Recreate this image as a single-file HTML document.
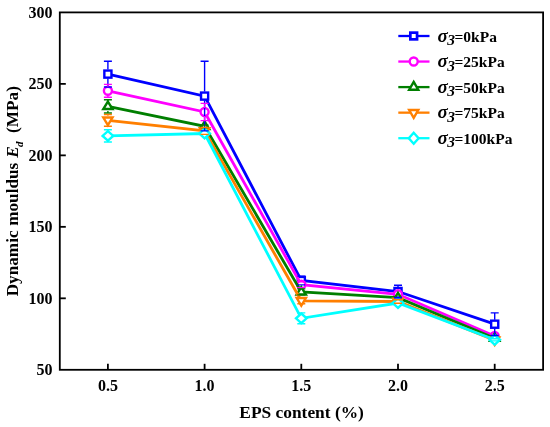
<!DOCTYPE html>
<html><head><meta charset="utf-8"><style>
html,body{margin:0;padding:0;background:#fff;}
svg{display:block;}
.t{font-family:"Liberation Serif",serif;font-weight:bold;font-size:16px;fill:#000;}
.lg{font-family:"Liberation Serif",serif;font-weight:bold;font-size:15.5px;fill:#000;}
.sg{font-size:19px;}
.s3{font-size:15.5px;}
</style></head><body>
<svg width="550" height="427" viewBox="0 0 550 427">
<rect width="550" height="427" fill="#fff"/>
<polyline points="107.90,74.10 204.60,96.10 301.30,280.50 398.00,291.50 494.70,324.20" fill="none" stroke="#0000ff" stroke-width="2.8" stroke-linejoin="miter"/>
<rect x="104.35" y="70.55" width="7.1" height="7.1" fill="#fff" stroke="#0000ff" stroke-width="2.4"/>
<rect x="201.05" y="92.55" width="7.1" height="7.1" fill="#fff" stroke="#0000ff" stroke-width="2.4"/>
<rect x="297.75" y="276.95" width="7.1" height="7.1" fill="#fff" stroke="#0000ff" stroke-width="2.4"/>
<rect x="394.45" y="287.95" width="7.1" height="7.1" fill="#fff" stroke="#0000ff" stroke-width="2.4"/>
<rect x="491.15" y="320.65" width="7.1" height="7.1" fill="#fff" stroke="#0000ff" stroke-width="2.4"/>
<polyline points="107.90,90.80 204.60,112.00 301.30,284.70 398.00,294.30 494.70,336.00" fill="none" stroke="#ff00ff" stroke-width="2.8" stroke-linejoin="miter"/>
<circle cx="107.90" cy="90.80" r="4.0" fill="#fff" stroke="#ff00ff" stroke-width="2.4"/>
<circle cx="204.60" cy="112.00" r="4.0" fill="#fff" stroke="#ff00ff" stroke-width="2.4"/>
<circle cx="301.30" cy="284.70" r="4.0" fill="#fff" stroke="#ff00ff" stroke-width="2.4"/>
<circle cx="398.00" cy="294.30" r="4.0" fill="#fff" stroke="#ff00ff" stroke-width="2.4"/>
<circle cx="494.70" cy="336.00" r="4.0" fill="#fff" stroke="#ff00ff" stroke-width="2.4"/>
<polyline points="107.90,106.40 204.60,126.30 301.30,291.90 398.00,297.70 494.70,338.20" fill="none" stroke="#007f00" stroke-width="2.8" stroke-linejoin="miter"/>
<path d="M107.90,101.60 L112.50,109.05 L103.30,109.05Z" fill="#fff" stroke="#007f00" stroke-width="2.4" stroke-linejoin="miter"/>
<path d="M204.60,121.50 L209.20,128.95 L200.00,128.95Z" fill="#fff" stroke="#007f00" stroke-width="2.4" stroke-linejoin="miter"/>
<path d="M301.30,287.10 L305.90,294.55 L296.70,294.55Z" fill="#fff" stroke="#007f00" stroke-width="2.4" stroke-linejoin="miter"/>
<path d="M398.00,292.90 L402.60,300.35 L393.40,300.35Z" fill="#fff" stroke="#007f00" stroke-width="2.4" stroke-linejoin="miter"/>
<path d="M494.70,333.40 L499.30,340.85 L490.10,340.85Z" fill="#fff" stroke="#007f00" stroke-width="2.4" stroke-linejoin="miter"/>
<polyline points="107.90,120.35 204.60,130.90 301.30,300.80 398.00,301.50 494.70,340.20" fill="none" stroke="#ff7f00" stroke-width="2.8" stroke-linejoin="miter"/>
<path d="M107.90,125.15 L112.50,117.55 L103.30,117.55Z" fill="#fff" stroke="#ff7f00" stroke-width="2.4" stroke-linejoin="miter"/>
<path d="M204.60,135.70 L209.20,128.10 L200.00,128.10Z" fill="#fff" stroke="#ff7f00" stroke-width="2.4" stroke-linejoin="miter"/>
<path d="M301.30,305.60 L305.90,298.00 L296.70,298.00Z" fill="#fff" stroke="#ff7f00" stroke-width="2.4" stroke-linejoin="miter"/>
<path d="M398.00,306.30 L402.60,298.70 L393.40,298.70Z" fill="#fff" stroke="#ff7f00" stroke-width="2.4" stroke-linejoin="miter"/>
<path d="M494.70,345.00 L499.30,337.40 L490.10,337.40Z" fill="#fff" stroke="#ff7f00" stroke-width="2.4" stroke-linejoin="miter"/>
<polyline points="107.90,135.90 204.60,133.50 301.30,318.30 398.00,303.00 494.70,339.80" fill="none" stroke="#00ffff" stroke-width="2.8" stroke-linejoin="miter"/>
<path d="M107.90,131.10 L113.20,135.90 L107.90,140.70 L102.60,135.90Z" fill="#fff" stroke="#00ffff" stroke-width="2.4" stroke-linejoin="miter"/>
<path d="M204.60,128.70 L209.90,133.50 L204.60,138.30 L199.30,133.50Z" fill="#fff" stroke="#00ffff" stroke-width="2.4" stroke-linejoin="miter"/>
<path d="M301.30,313.50 L306.60,318.30 L301.30,323.10 L296.00,318.30Z" fill="#fff" stroke="#00ffff" stroke-width="2.4" stroke-linejoin="miter"/>
<path d="M398.00,298.20 L403.30,303.00 L398.00,307.80 L392.70,303.00Z" fill="#fff" stroke="#00ffff" stroke-width="2.4" stroke-linejoin="miter"/>
<path d="M494.70,335.00 L500.00,339.80 L494.70,344.60 L489.40,339.80Z" fill="#fff" stroke="#00ffff" stroke-width="2.4" stroke-linejoin="miter"/>
<path d="M107.90,61.20V69.60M107.90,78.60V87.00M103.90,61.20H111.90M103.90,87.00H111.90" stroke="#0000ff" stroke-width="1.4" fill="none"/>
<path d="M204.60,61.30V91.60M204.60,100.60V130.90M200.60,61.30H208.60M200.60,130.90H208.60" stroke="#0000ff" stroke-width="1.4" fill="none"/>
<path d="M297.30,276.10H305.30M297.30,284.90H305.30" stroke="#0000ff" stroke-width="1.4" fill="none"/>
<path d="M398.00,285.20V287.00M398.00,296.00V297.80M394.00,285.20H402.00M394.00,297.80H402.00" stroke="#0000ff" stroke-width="1.4" fill="none"/>
<path d="M494.70,312.90V319.70M494.70,328.70V335.50M490.70,312.90H498.70M490.70,335.50H498.70" stroke="#0000ff" stroke-width="1.4" fill="none"/>
<path d="M107.90,84.40V86.80M107.90,94.80V97.20M103.90,84.40H111.90M103.90,97.20H111.90" stroke="#ff00ff" stroke-width="1.4" fill="none"/>
<path d="M204.60,103.40V108.00M204.60,116.00V120.60M200.60,103.40H208.60M200.60,120.60H208.60" stroke="#ff00ff" stroke-width="1.4" fill="none"/>
<path d="M297.30,281.70H305.30M297.30,287.70H305.30" stroke="#ff00ff" stroke-width="1.4" fill="none"/>


<path d="M107.90,99.80V101.80M107.90,111.00V113.00M103.90,99.80H111.90M103.90,113.00H111.90" stroke="#007f00" stroke-width="1.4" fill="none"/>
<path d="M200.60,125.10H208.60M200.60,127.50H208.60" stroke="#007f00" stroke-width="1.4" fill="none"/>
<path d="M297.30,288.90H305.30M297.30,294.90H305.30" stroke="#007f00" stroke-width="1.4" fill="none"/>


<path d="M107.90,114.50V115.75M107.90,124.95V126.20M103.90,114.50H111.90M103.90,126.20H111.90" stroke="#ff7f00" stroke-width="1.4" fill="none"/>
<path d="M200.60,127.40H208.60M200.60,134.40H208.60" stroke="#ff7f00" stroke-width="1.4" fill="none"/>
<path d="M297.30,297.80H305.30M297.30,303.80H305.30" stroke="#ff7f00" stroke-width="1.4" fill="none"/>
<path d="M394.00,299.70H402.00M394.00,303.30H402.00" stroke="#ff7f00" stroke-width="1.4" fill="none"/>

<path d="M107.90,129.80V131.10M107.90,140.70V142.00M103.90,129.80H111.90M103.90,142.00H111.90" stroke="#00ffff" stroke-width="1.4" fill="none"/>

<path d="M301.30,312.85V313.50M301.30,323.10V323.75M297.30,312.85H305.30M297.30,323.75H305.30" stroke="#00ffff" stroke-width="1.4" fill="none"/>

<path d="M490.70,338.70H498.70M490.70,340.90H498.70" stroke="#00ffff" stroke-width="1.4" fill="none"/>
<rect x="59.8" y="12.4" width="483.30" height="357.40" fill="none" stroke="#000" stroke-width="1.8"/>
<path d="M59.8,298.32H65.8" stroke="#000" stroke-width="1.8"/>
<path d="M59.8,226.84H65.8" stroke="#000" stroke-width="1.8"/>
<path d="M59.8,155.36H65.8" stroke="#000" stroke-width="1.8"/>
<path d="M59.8,83.88H65.8" stroke="#000" stroke-width="1.8"/>
<path d="M107.90,369.8V363.8" stroke="#000" stroke-width="1.8"/>
<path d="M204.60,369.8V363.8" stroke="#000" stroke-width="1.8"/>
<path d="M301.30,369.8V363.8" stroke="#000" stroke-width="1.8"/>
<path d="M398.00,369.8V363.8" stroke="#000" stroke-width="1.8"/>
<path d="M494.70,369.8V363.8" stroke="#000" stroke-width="1.8"/>
<text x="52.5" y="375.10" text-anchor="end" class="t">50</text>
<text x="52.5" y="303.62" text-anchor="end" class="t">100</text>
<text x="52.5" y="232.14" text-anchor="end" class="t">150</text>
<text x="52.5" y="160.66" text-anchor="end" class="t">200</text>
<text x="52.5" y="89.18" text-anchor="end" class="t">250</text>
<text x="52.5" y="17.70" text-anchor="end" class="t">300</text>
<text x="107.90" y="390.7" text-anchor="middle" class="t">0.5</text>
<text x="204.60" y="390.7" text-anchor="middle" class="t">1.0</text>
<text x="301.30" y="390.7" text-anchor="middle" class="t">1.5</text>
<text x="398.00" y="390.7" text-anchor="middle" class="t">2.0</text>
<text x="494.70" y="390.7" text-anchor="middle" class="t">2.5</text>
<text x="301.6" y="418" text-anchor="middle" class="t" style="font-size:17.4px">EPS content (%)</text>
<text transform="translate(18.4,296.3) rotate(-90)" class="t" style="font-size:17.2px"><tspan x="0">Dynamic</tspan><tspan x="70.5">mouldus</tspan><tspan x="138.5" font-style="italic">E</tspan><tspan x="149.3" font-style="italic" style="font-size:11px" dy="4.5">d</tspan><tspan x="163.4" dy="-4.5">(MPa)</tspan></text>
<path d="M398.3,36.00H429.5" stroke="#0000ff" stroke-width="2.3"/>
<rect x="410.35" y="32.65" width="6.7" height="6.7" fill="#fff" stroke="#0000ff" stroke-width="2.7"/>
<text x="437.5" y="41.70" class="lg"><tspan font-style="italic" class="sg">σ</tspan><tspan class="s3" font-style="italic" dy="3.3" dx="-0.6">3</tspan><tspan dy="-3.3" dx="-0.4">=0kPa</tspan></text>
<path d="M398.3,61.55H429.5" stroke="#ff00ff" stroke-width="2.3"/>
<circle cx="413.70" cy="61.55" r="4.0" fill="#fff" stroke="#ff00ff" stroke-width="2.4"/>
<text x="437.5" y="67.25" class="lg"><tspan font-style="italic" class="sg">σ</tspan><tspan class="s3" font-style="italic" dy="3.3" dx="-0.6">3</tspan><tspan dy="-3.3" dx="-0.4">=25kPa</tspan></text>
<path d="M398.3,87.10H429.5" stroke="#007f00" stroke-width="2.3"/>
<path d="M413.70,81.85 L418.25,89.75 L409.15,89.75Z" fill="#fff" stroke="#007f00" stroke-width="2.4" stroke-linejoin="miter"/>
<text x="437.5" y="92.80" class="lg"><tspan font-style="italic" class="sg">σ</tspan><tspan class="s3" font-style="italic" dy="3.3" dx="-0.6">3</tspan><tspan dy="-3.3" dx="-0.4">=50kPa</tspan></text>
<path d="M398.3,112.65H429.5" stroke="#ff7f00" stroke-width="2.3"/>
<path d="M413.70,117.90 L418.25,110.00 L409.15,110.00Z" fill="#fff" stroke="#ff7f00" stroke-width="2.4" stroke-linejoin="miter"/>
<text x="437.5" y="118.35" class="lg"><tspan font-style="italic" class="sg">σ</tspan><tspan class="s3" font-style="italic" dy="3.3" dx="-0.6">3</tspan><tspan dy="-3.3" dx="-0.4">=75kPa</tspan></text>
<path d="M398.3,138.20H429.5" stroke="#00ffff" stroke-width="2.3"/>
<path d="M413.70,132.70 L418.60,138.20 L413.70,143.70 L408.80,138.20Z" fill="#fff" stroke="#00ffff" stroke-width="2.4" stroke-linejoin="miter"/>
<text x="437.5" y="143.90" class="lg"><tspan font-style="italic" class="sg">σ</tspan><tspan class="s3" font-style="italic" dy="3.3" dx="-0.6">3</tspan><tspan dy="-3.3" dx="-0.4">=100kPa</tspan></text>
</svg>
</body></html>
